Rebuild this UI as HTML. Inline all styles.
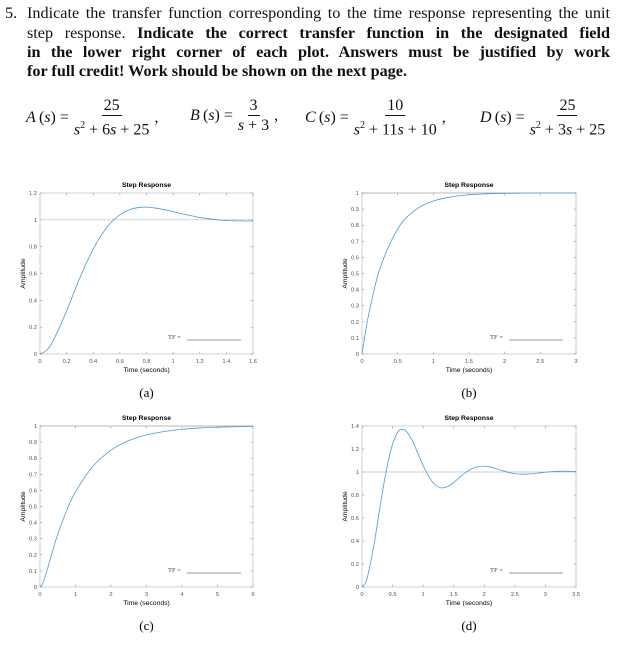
<!DOCTYPE html>
<html><head><meta charset="utf-8">
<style>
body{margin:0;width:629px;height:653px;background:#fff;position:relative;overflow:hidden;font-family:"Liberation Serif",serif;color:#111}
.ln{position:absolute;left:27px;width:583px;font-size:16.2px;line-height:19px;white-space:nowrap;text-align:justify;text-align-last:justify}
.b{font-weight:bold}
.eq{position:absolute;top:96px;font-size:16px;display:flex;align-items:center}
.fr{display:inline-flex;flex-direction:column;align-items:center;margin:0 3px}
.fr span{padding:0 2px;line-height:19px}
.fr .num{border-bottom:1px solid #111}
i{font-style:italic}
svg{position:absolute;left:0;top:0}
</style></head><body>
<div style="position:absolute;left:5px;top:4px;font-size:16.2px;line-height:19px">5.</div>
<div class="ln" style="top:4px">Indicate the transfer function corresponding to the time response representing the unit</div>
<div class="ln" style="top:24px">step response. <span class="b">Indicate the correct transfer function in the designated field</span></div>
<div class="ln b" style="top:43px">in the lower right corner of each plot. Answers must be justified by work</div>
<div class="ln b" style="top:62px;text-align-last:left;width:auto">for full credit! Work should be shown on the next page.</div>

<div class="eq" style="left:26px"><i>A</i>&thinsp;(<i>s</i>) =<span class="fr"><span class="num">25</span><span><i>s</i><sup style="font-size:10px">2</sup> + 6<i>s</i> + 25</span></span>,</div>
<div class="eq" style="left:190px"><i>B</i>&thinsp;(<i>s</i>) =<span class="fr"><span class="num">3</span><span><i>s</i> + 3</span></span>,</div>
<div class="eq" style="left:305px"><i>C</i>&thinsp;(<i>s</i>) =<span class="fr"><span class="num">10</span><span><i>s</i><sup style="font-size:10px">2</sup> + 11<i>s</i> + 10</span></span>,</div>
<div class="eq" style="left:480px"><i>D</i>&thinsp;(<i>s</i>) =<span class="fr"><span class="num">25</span><span><i>s</i><sup style="font-size:10px">2</sup> + 3<i>s</i> + 25</span></span></div>

<svg id="chart" width="629" height="653"></svg>
<script>
const aTimes=[0,0.05,0.1,0.2,0.3,0.4,0.5,0.6,0.7,0.8,0.9,1.0,1.1,1.2,1.3,1.4,1.5,1.6];
const aValues=[0,0.028,0.101,0.322,0.568,0.783,0.941,1.038,1.084,1.095,1.082,1.061,1.038,1.018,1.004,0.995,0.992,0.991];
const bTimes=[0,0.05,0.1,0.25,0.5,0.75,1,1.25,1.5,1.75,2,2.25,2.5,2.75,3];
const bValues=[0,0.139,0.259,0.528,0.777,0.895,0.950,0.976,0.989,0.995,0.998,0.999,1,1,1];
const cTimes=[0,0.05,0.1,0.2,0.35,0.5,0.75,1,1.5,2,2.5,3,3.5,4,4.5,5,5.5,6];
const cValues=[0,0.011,0.036,0.105,0.220,0.327,0.475,0.591,0.752,0.850,0.909,0.945,0.966,0.980,0.988,0.9925,0.9955,0.997];
const dTimes=[0,0.05,0.1,0.2,0.3,0.4,0.5,0.6,0.7,0.8,0.9,1.0,1.1,1.2,1.3,1.4,1.5,1.6,1.7,1.8,1.9,2.0,2.1,2.2,2.3,2.4,2.5,2.6,2.7,2.8,2.9,3.0,3.1,3.2,3.3,3.4,3.5];
const dValues=[0,0.029,0.111,0.381,0.713,1.019,1.241,1.357,1.365,1.295,1.180,1.057,0.954,0.887,0.862,0.873,0.909,0.954,0.997,1.029,1.048,1.051,1.043,1.028,1.011,0.996,0.986,0.981,0.982,0.986,0.992,0.998,1.003,1.006,1.007,1.006,1.004];
const aXTicks=["0","0.2","0.4","0.6","0.8","1","1.2","1.4","1.6"];
const aYTicks=["0","0.2","0.4","0.6","0.8","1","1.2"];
const bXTicks=["0","0.5","1","1.5","2","2.5","3"];
const bYTicks=["0","0.1","0.2","0.3","0.4","0.5","0.6","0.7","0.8","0.9","1"];
const cXTicks=["0","1","2","3","4","5","6"];
const cYTicks=bYTicks;
const dXTicks=["0","0.5","1","1.5","2","2.5","3","3.5"];
const dYTicks=["0","0.2","0.4","0.6","0.8","1","1.2","1.4"];

const svg=document.getElementById('chart');
const NS='http://www.w3.org/2000/svg';
function mk(tag,attrs,parent,text){const e=document.createElementNS(NS,tag);for(const k in attrs)e.setAttribute(k,attrs[k]);if(text!==undefined)e.textContent=text;parent.appendChild(e);return e;}

function plot(id,x0,y0,x1,y1,times,vals,xt,yt,letter){
  const xmax=parseFloat(xt[xt.length-1]),ymax=parseFloat(yt[yt.length-1]);
  const sx=v=>x0+(v/xmax)*(x1-x0), sy=v=>y1-(v/ymax)*(y1-y0);
  const g=mk('g',{},svg);
  
  
  const bx=mk('rect',{x:x0,y:y0,width:x1-x0,height:y1-y0,fill:'#fff',stroke:'#c8c8c8','stroke-width':0.8},g);
  
  
  xt.forEach(t=>{const v=parseFloat(t),X=sx(v);
    mk('line',{x1:X,x2:X,y1:y1,y2:y1-2.5,stroke:'#999','stroke-width':0.6},g);
    mk('line',{x1:X,x2:X,y1:y0,y2:y0+2.5,stroke:'#999','stroke-width':0.6},g);
    const tl=mk('text',{x:X,y:y1+9,'font-size':5.8,fill:'#555','text-anchor':'middle','font-family':'Liberation Sans'},g,t);
    
    
  });
  yt.forEach(t=>{const v=parseFloat(t),Y=sy(v);
    mk('line',{x1:x0,x2:x0+2.5,y1:Y,y2:Y,stroke:'#999','stroke-width':0.6},g);
    mk('line',{x1:x1,x2:x1-2.5,y1:Y,y2:Y,stroke:'#999','stroke-width':0.6},g);
    const tl=mk('text',{x:x0-3,y:Y+2,'font-size':5.8,fill:'#555','text-anchor':'end','font-family':'Liberation Sans'},g,t);
    
    
  });
  const ref=mk('line',{x1:x0,x2:x1,y1:sy(1),y2:sy(1),stroke:'#999','stroke-width':0.7,'stroke-dasharray':'1,0.6'},g);
  
  
  let p=[];for(let i=0;i<times.length;i++)p.push([sx(times[i]),sy(vals[i])]);
  let d='M'+p[0][0]+','+p[0][1];
  for(let i=0;i<p.length-1;i++){const a=p[Math.max(i-1,0)],b=p[i],c=p[i+1],e=p[Math.min(i+2,p.length-1)];
    d+=' C'+(b[0]+(c[0]-a[0])/6)+','+(b[1]+(c[1]-a[1])/6)+' '+(c[0]-(e[0]-b[0])/6)+','+(c[1]-(e[1]-b[1])/6)+' '+c[0]+','+c[1];}
  const ln=mk('path',{d:d,fill:'none',stroke:'#4a9bd6','stroke-width':0.8},g);
  
  
  const tt=mk('text',{x:(x0+x1)/2,y:y0-6,'font-size':6.8,'font-weight':'bold','text-anchor':'middle','font-family':'Liberation Sans'},g,'Step Response');
  
  
  const xl=mk('text',{x:(x0+x1)/2,y:y1+18,'font-size':6.8,'text-anchor':'middle','font-family':'Liberation Sans'},g,'Time (seconds)');
  
  
  const yl=mk('text',{x:0,y:0,'font-size':6.8,'text-anchor':'middle','font-family':'Liberation Sans',transform:'translate('+(x0-15)+','+((y0+y1)/2)+') rotate(-90)'},g,'Amplitude');
  
  
  const tf=mk('text',{x:x0+128,y:y1-15,'font-size':6.5,fill:'#444','font-family':'Liberation Serif'},g,'TF =');
  
  
  const fl=mk('line',{x1:x0+147,x2:x0+201,y1:y1-14,y2:y1-14,stroke:'#777','stroke-width':0.7},g);
  
  
  const lt=mk('text',{x:(x0+x1)/2,y:y1+43,'font-size':13,'text-anchor':'middle','font-family':'Liberation Serif'},g,'('+letter+')');
  
  
}
plot('a',40,193,253,354,aTimes,aValues,aXTicks,aYTicks,'a');
plot('b',362,193,576,354,bTimes,bValues,bXTicks,bYTicks,'b');
plot('c',40,426,253,587,cTimes,cValues,cXTicks,cYTicks,'c');
plot('d',362,426,576,587,dTimes,dValues,dXTicks,dYTicks,'d');
</script>
</body></html>
